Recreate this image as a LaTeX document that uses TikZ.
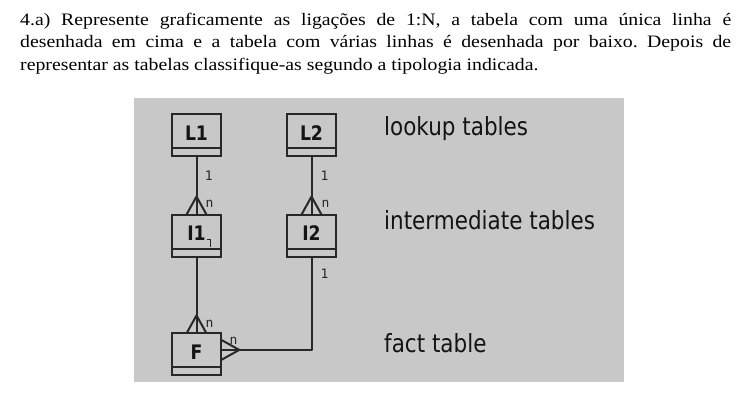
\documentclass[tikz,border=0pt]{standalone}
\usepackage{fontspec}
\setmainfont{Liberation Serif}[FakeStretch=1.13]
\newfontfamily\tahfont{DejaVu Sans}[FakeStretch=0.86]
\newfontfamily\monofont{DejaVu Sans Mono}
\usetikzlibrary{calc}
\definecolor{bg}{RGB}{200,200,200}
\definecolor{ink}{RGB}{40,40,40}
\definecolor{txtc}{RGB}{20,20,20}
\tikzset{
  tbl/.style={draw=ink, line width=2pt, fill=bg, minimum width=49.6pt, minimum height=42pt,
    inner sep=0pt, outer sep=0pt, text=txtc, text height=14pt, text depth=4pt,
    font=\tahfont\bfseries\fontsize{20}{20}\selectfont,
    path picture={\draw[ink, line width=2pt]
      ([yshift=8pt]path picture bounding box.south west) --
      ([yshift=8pt]path picture bounding box.south east);}},
  conn/.style={draw=ink, line width=2pt, line join=round},
  card/.style={font=\monofont\fontsize{13}{13}\selectfont, text=ink, inner sep=0pt},
  cat/.style={font=\tahfont\fontsize{25}{25}\selectfont, text=txtc, anchor=west, inner sep=0pt},
}
\begin{document}
\begin{tikzpicture}[x=1pt,y=-1pt]
\useasboundingbox (0,0) rectangle (740,400);
\fill[white] (0,0) rectangle (740,400);
\node[anchor=base west, inner sep=0pt, text width=711pt, align=justify,
  font=\fontsize{17.5}{22.2}\selectfont\frenchspacing] (txt) at (20,25.7)
  {4.a) Represente graficamente as ligações de 1:N, a tabela com uma única linha é\linebreak
   desenhada em cima e a tabela com várias linhas é desenhada por baixo. Depois de\linebreak
   representar as tabelas classifique-as segundo a tipologia indicada.};
\fill[bg] (134,97.5) rectangle (623.5,382);
% tables
\node[tbl] (L1) at (196.5,135.3) {L1};
\node[tbl] (L2) at (311.5,135.3) {L2};
\node[tbl] (I1) at (196.5,235.6) {I1};
\node[tbl] (I2) at (311.5,235.6) {I2};
\node[tbl] (F)  at (196.5,354.4) {F};
% crow tips
\coordinate (t1) at ($(I1.north)+(0,-18)$);
\coordinate (t2) at ($(I2.north)+(0,-18)$);
\coordinate (t3) at ($(F.north)+(0,-18)$);
\coordinate (t4) at ($(F.east)+(18,-4.5)$);
% L1 - I1
\draw[conn] (L1.south) -- (t1);
\draw[conn] ($(I1.north)+(-10,0)$) -- (t1) -- ($(I1.north)+(10,0)$);
\draw[conn] (t1) -- (I1.north);
% L2 - I2
\draw[conn] (L2.south) -- (t2);
\draw[conn] ($(I2.north)+(-10,0)$) -- (t2) -- ($(I2.north)+(10,0)$);
\draw[conn] (t2) -- (I2.north);
% I1 - F
\draw[conn] (I1.south) -- (t3);
\draw[conn] ($(F.north)+(-10,0)$) -- (t3) -- ($(F.north)+(10,0)$);
\draw[conn] (t3) -- (F.north);
% I2 - F
\draw[conn] (I2.south) |- (t4);
\draw[conn] ($(F.east)+(0,-14.5)$) -- (t4) -- ($(F.east)+(0,5.5)$);
\draw[conn] (t4) -- ($(F.east)+(0,-4.5)$);
% small mark inside I1
\draw[ink, line width=1pt] (206.7,239.3) -- (210,239.3) -- (210,247.3);
% cardinalities
\node[card] (c1) at (208.7,175.3) {1};
\node[card] (c2) at (209.5,204) {n};
\node[card] (c3) at (324.5,175.3) {1};
\node[card] (c4) at (325.5,204) {n};
\node[card] (c5) at (324.5,273.5) {1};
\node[card] (c6) at (209.5,323.5) {n};
\node[card] (c7) at (233.5,341) {n};
% categories
\node[cat] (k1) at (384,129) {lookup tables};
\node[cat] (k2) at (384,220) {intermediate tables};
\node[cat] (k3) at (384,343) {fact table};
\end{tikzpicture}
\end{document}
